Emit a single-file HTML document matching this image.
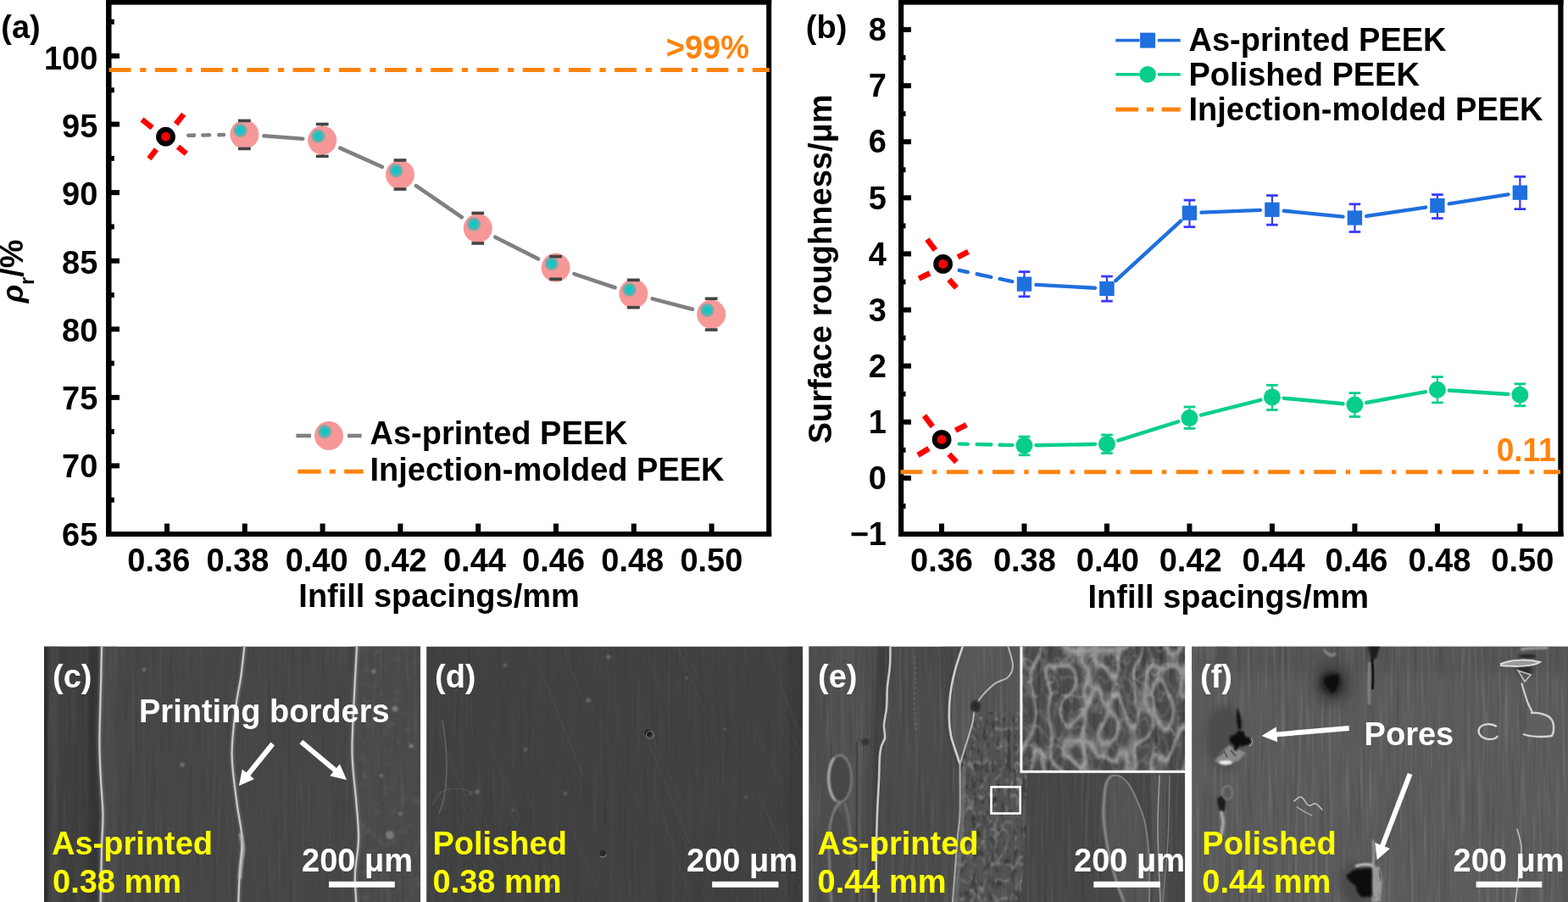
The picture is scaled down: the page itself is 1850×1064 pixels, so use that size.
<!DOCTYPE html>
<html><head><meta charset="utf-8"><title>PEEK figure</title>
<style>
html,body{margin:0;padding:0;background:#fff;}
body{width:1850px;height:1064px;overflow:hidden;}
svg{display:block;font-family:'Liberation Sans', Arial, sans-serif;font-weight:bold;}
</style></head><body>
<svg width="1850" height="1064" viewBox="0 0 1850 1064">
<rect width="1850" height="1064" fill="#fff"/>
<g id="pa">
<rect x="125.05" y="-0.40" width="6.50" height="633.40" fill="#000"/>
<rect x="904.20" y="-0.40" width="6.00" height="633.40" fill="#000"/>
<rect x="125.05" y="-0.40" width="785.15" height="6.00" fill="#000"/>
<rect x="125.05" y="627.00" width="785.15" height="6.00" fill="#000"/>
<line x1="128.6" y1="82.5" x2="907.7" y2="82.5" stroke="#ff830c" stroke-width="5" stroke-dasharray="25.8 10.8 7.2 10.43"/>
<rect x="128.3" y="627.00" width="12.70" height="6" fill="#000"/>
<text x="115.30" y="643.60" font-size="38" text-anchor="end" fill="#000" >65</text>
<rect x="128.3" y="586.72" width="6.50" height="6" fill="#000"/>
<rect x="128.3" y="546.43" width="12.70" height="6" fill="#000"/>
<text x="115.30" y="563.33" font-size="38" text-anchor="end" fill="#000" >70</text>
<rect x="128.3" y="506.14" width="6.50" height="6" fill="#000"/>
<rect x="128.3" y="465.86" width="12.70" height="6" fill="#000"/>
<text x="115.30" y="483.06" font-size="38" text-anchor="end" fill="#000" >75</text>
<rect x="128.3" y="425.57" width="6.50" height="6" fill="#000"/>
<rect x="128.3" y="385.29" width="12.70" height="6" fill="#000"/>
<text x="115.30" y="402.79" font-size="38" text-anchor="end" fill="#000" >80</text>
<rect x="128.3" y="345.00" width="6.50" height="6" fill="#000"/>
<rect x="128.3" y="304.72" width="12.70" height="6" fill="#000"/>
<text x="115.30" y="322.52" font-size="38" text-anchor="end" fill="#000" >85</text>
<rect x="128.3" y="264.44" width="6.50" height="6" fill="#000"/>
<rect x="128.3" y="224.15" width="12.70" height="6" fill="#000"/>
<text x="115.30" y="242.25" font-size="38" text-anchor="end" fill="#000" >90</text>
<rect x="128.3" y="183.86" width="6.50" height="6" fill="#000"/>
<rect x="128.3" y="143.58" width="12.70" height="6" fill="#000"/>
<text x="115.30" y="161.98" font-size="38" text-anchor="end" fill="#000" >95</text>
<rect x="128.3" y="103.29" width="6.50" height="6" fill="#000"/>
<rect x="128.3" y="63.01" width="12.70" height="6" fill="#000"/>
<text x="115.30" y="81.71" font-size="38" text-anchor="end" fill="#000" >100</text>
<rect x="128.3" y="22.73" width="6.50" height="6" fill="#000"/>
<rect x="194.00" y="617.6" width="6" height="12.40" fill="#000"/>
<text x="187.30" y="673.50" font-size="38" text-anchor="middle" fill="#000" >0.36</text>
<rect x="285.80" y="617.6" width="6" height="12.40" fill="#000"/>
<text x="280.46" y="673.50" font-size="38" text-anchor="middle" fill="#000" >0.38</text>
<rect x="377.60" y="617.6" width="6" height="12.40" fill="#000"/>
<text x="373.62" y="673.50" font-size="38" text-anchor="middle" fill="#000" >0.40</text>
<rect x="469.40" y="617.6" width="6" height="12.40" fill="#000"/>
<text x="466.78" y="673.50" font-size="38" text-anchor="middle" fill="#000" >0.42</text>
<rect x="561.20" y="617.6" width="6" height="12.40" fill="#000"/>
<text x="559.94" y="673.50" font-size="38" text-anchor="middle" fill="#000" >0.44</text>
<rect x="653.00" y="617.6" width="6" height="12.40" fill="#000"/>
<text x="653.10" y="673.50" font-size="38" text-anchor="middle" fill="#000" >0.46</text>
<rect x="744.80" y="617.6" width="6" height="12.40" fill="#000"/>
<text x="746.26" y="673.50" font-size="38" text-anchor="middle" fill="#000" >0.48</text>
<rect x="836.60" y="617.6" width="6" height="12.40" fill="#000"/>
<text x="839.42" y="673.50" font-size="38" text-anchor="middle" fill="#000" >0.50</text>
<text x="518.10" y="716.30" font-size="38" text-anchor="middle" fill="#000" >Infill spacings/mm</text>
<text x="884.00" y="68.70" font-size="38" text-anchor="end" fill="#ff830c" >&gt;99%</text>
<text x="1.30" y="44.70" font-size="38" text-anchor="start" fill="#000" >(a)</text>
<text transform="translate(26.8,357.2) rotate(-90)" font-size="38"><tspan font-style="italic" font-size="35.5">ρ</tspan><tspan font-size="23" dy="13.5">r</tspan><tspan dy="-13.5">/%</tspan></text>
</g>
<line x1="222.30" y1="159.74" x2="229.00" y2="159.63" stroke="#808080" stroke-width="4.6" stroke-linecap="round"/><line x1="239.30" y1="159.45" x2="247.00" y2="159.32" stroke="#808080" stroke-width="4.6" stroke-linecap="round"/><line x1="258.30" y1="159.12" x2="264.00" y2="159.02" stroke="#808080" stroke-width="4.6" stroke-linecap="round"/>
<line x1="311.34" y1="160.30" x2="357.26" y2="163.70" stroke="#808080" stroke-width="4.6" stroke-linecap="round"/>
<line x1="401.23" y1="174.72" x2="450.97" y2="196.78" stroke="#808080" stroke-width="4.6" stroke-linecap="round"/>
<line x1="490.94" y1="219.14" x2="544.86" y2="256.26" stroke="#808080" stroke-width="4.6" stroke-linecap="round"/>
<line x1="584.32" y1="279.69" x2="635.08" y2="305.41" stroke="#808080" stroke-width="4.6" stroke-linecap="round"/>
<line x1="677.41" y1="323.09" x2="725.59" y2="339.21" stroke="#808080" stroke-width="4.6" stroke-linecap="round"/>
<line x1="769.64" y1="352.36" x2="816.96" y2="364.84" stroke="#808080" stroke-width="4.6" stroke-linecap="round"/>
<defs><radialGradient id="gp" cx="0.5" cy="0.5" r="0.5">
<stop offset="0" stop-color="#00cccc"/><stop offset="0.45" stop-color="#22c0c0"/><stop offset="0.85" stop-color="#7fa9a8"/><stop offset="1" stop-color="#8fa9a8"/></radialGradient></defs>
<line x1="288.40" y1="142.40" x2="288.40" y2="175.40" stroke="#444" stroke-width="2.2"/>
<circle cx="288.40" cy="158.60" r="17" fill="#f89797"/><circle cx="283.60" cy="153.80" r="8.2" fill="url(#gp)"/>
<rect x="281.00" y="140.60" width="14.8" height="3.6" fill="#444"/>
<rect x="281.00" y="173.60" width="14.8" height="3.6" fill="#444"/>
<line x1="380.20" y1="146.50" x2="380.20" y2="184.30" stroke="#444" stroke-width="2.2"/>
<circle cx="380.20" cy="165.40" r="17" fill="#f89797"/><circle cx="375.40" cy="160.60" r="8.2" fill="url(#gp)"/>
<rect x="372.80" y="144.70" width="14.8" height="3.6" fill="#444"/>
<rect x="372.80" y="182.50" width="14.8" height="3.6" fill="#444"/>
<line x1="472.00" y1="189.00" x2="472.00" y2="223.10" stroke="#444" stroke-width="2.2"/>
<circle cx="472.00" cy="206.10" r="17" fill="#f89797"/><circle cx="467.20" cy="201.30" r="8.2" fill="url(#gp)"/>
<rect x="464.60" y="187.20" width="14.8" height="3.6" fill="#444"/>
<rect x="464.60" y="221.30" width="14.8" height="3.6" fill="#444"/>
<line x1="563.80" y1="251.40" x2="563.80" y2="287.00" stroke="#444" stroke-width="2.2"/>
<circle cx="563.80" cy="269.30" r="17" fill="#f89797"/><circle cx="559.00" cy="264.50" r="8.2" fill="url(#gp)"/>
<rect x="556.40" y="249.60" width="14.8" height="3.6" fill="#444"/>
<rect x="556.40" y="285.20" width="14.8" height="3.6" fill="#444"/>
<line x1="655.60" y1="302.60" x2="655.60" y2="329.20" stroke="#444" stroke-width="2.2"/>
<circle cx="655.60" cy="315.80" r="17" fill="#f89797"/><circle cx="650.80" cy="311.00" r="8.2" fill="url(#gp)"/>
<rect x="648.20" y="300.80" width="14.8" height="3.6" fill="#444"/>
<rect x="648.20" y="327.40" width="14.8" height="3.6" fill="#444"/>
<line x1="747.40" y1="330.30" x2="747.40" y2="362.70" stroke="#444" stroke-width="2.2"/>
<circle cx="747.40" cy="346.50" r="17" fill="#f89797"/><circle cx="742.60" cy="341.70" r="8.2" fill="url(#gp)"/>
<rect x="740.00" y="328.50" width="14.8" height="3.6" fill="#444"/>
<rect x="740.00" y="360.90" width="14.8" height="3.6" fill="#444"/>
<line x1="839.20" y1="352.30" x2="839.20" y2="389.00" stroke="#444" stroke-width="2.2"/>
<circle cx="839.20" cy="370.70" r="17" fill="#f89797"/><circle cx="834.40" cy="365.90" r="8.2" fill="url(#gp)"/>
<rect x="831.80" y="350.50" width="14.8" height="3.6" fill="#444"/>
<rect x="831.80" y="387.20" width="14.8" height="3.6" fill="#444"/>
<line x1="167.50" y1="141.00" x2="179.60" y2="150.60" stroke="#ff0000" stroke-width="6.6"/><line x1="207.50" y1="146.40" x2="216.70" y2="134.80" stroke="#ff0000" stroke-width="6.6"/><line x1="175.90" y1="187.20" x2="184.40" y2="176.20" stroke="#ff0000" stroke-width="6.6"/><line x1="209.90" y1="173.10" x2="219.80" y2="181.20" stroke="#ff0000" stroke-width="6.6"/><circle cx="195.50" cy="161.20" r="8.4" fill="#ff0000" stroke="#000" stroke-width="6"/>
<line x1="349.4" y1="514" x2="367" y2="514" stroke="#808080" stroke-width="4.6"/>
<line x1="410" y1="514" x2="426.6" y2="514" stroke="#808080" stroke-width="4.6"/>
<circle cx="388.00" cy="514.00" r="17" fill="#f89797"/><circle cx="383.20" cy="509.20" r="8.2" fill="url(#gp)"/>
<text x="436.50" y="523.90" font-size="38" text-anchor="start" fill="#000" >As-printed PEEK</text>
<line x1="351.3" y1="556.2" x2="378.6" y2="556.2" stroke="#ff830c" stroke-width="5"/>
<line x1="388.9" y1="556.2" x2="395.8" y2="556.2" stroke="#ff830c" stroke-width="5"/>
<line x1="406.2" y1="556.2" x2="428.7" y2="556.2" stroke="#ff830c" stroke-width="5"/>
<text x="436.50" y="567.10" font-size="38" text-anchor="start" fill="#000" >Injection-molded PEEK</text>
<g id="pb">
<rect x="1060.00" y="-0.40" width="6.20" height="633.40" fill="#000"/>
<rect x="1838.30" y="-0.40" width="6.20" height="633.40" fill="#000"/>
<rect x="1060.00" y="-0.40" width="784.50" height="6.00" fill="#000"/>
<rect x="1060.00" y="627.00" width="784.50" height="6.00" fill="#000"/>
<line x1="1062.5" y1="556.8" x2="1841" y2="556.8" stroke="#ff830c" stroke-width="5" stroke-dasharray="25.8 11.6 5.4 11.4"/>
<rect x="1063.1" y="627.00" width="11.90" height="6" fill="#000"/>
<text x="1046.00" y="643.20" font-size="38" text-anchor="end" fill="#000" >−1</text>
<rect x="1063.1" y="593.95" width="5.40" height="6" fill="#000"/>
<rect x="1063.1" y="560.89" width="11.90" height="6" fill="#000"/>
<text x="1046.00" y="577.09" font-size="38" text-anchor="end" fill="#000" >0</text>
<rect x="1063.1" y="527.84" width="5.40" height="6" fill="#000"/>
<rect x="1063.1" y="494.78" width="11.90" height="6" fill="#000"/>
<text x="1046.00" y="510.98" font-size="38" text-anchor="end" fill="#000" >1</text>
<rect x="1063.1" y="461.73" width="5.40" height="6" fill="#000"/>
<rect x="1063.1" y="428.67" width="11.90" height="6" fill="#000"/>
<text x="1046.00" y="444.87" font-size="38" text-anchor="end" fill="#000" >2</text>
<rect x="1063.1" y="395.62" width="5.40" height="6" fill="#000"/>
<rect x="1063.1" y="362.56" width="11.90" height="6" fill="#000"/>
<text x="1046.00" y="378.76" font-size="38" text-anchor="end" fill="#000" >3</text>
<rect x="1063.1" y="329.50" width="5.40" height="6" fill="#000"/>
<rect x="1063.1" y="296.45" width="11.90" height="6" fill="#000"/>
<text x="1046.00" y="312.65" font-size="38" text-anchor="end" fill="#000" >4</text>
<rect x="1063.1" y="263.39" width="5.40" height="6" fill="#000"/>
<rect x="1063.1" y="230.34" width="11.90" height="6" fill="#000"/>
<text x="1046.00" y="246.54" font-size="38" text-anchor="end" fill="#000" >5</text>
<rect x="1063.1" y="197.29" width="5.40" height="6" fill="#000"/>
<rect x="1063.1" y="164.23" width="11.90" height="6" fill="#000"/>
<text x="1046.00" y="180.43" font-size="38" text-anchor="end" fill="#000" >6</text>
<rect x="1063.1" y="131.18" width="5.40" height="6" fill="#000"/>
<rect x="1063.1" y="98.12" width="11.90" height="6" fill="#000"/>
<text x="1046.00" y="114.32" font-size="38" text-anchor="end" fill="#000" >7</text>
<rect x="1063.1" y="65.07" width="5.40" height="6" fill="#000"/>
<rect x="1063.1" y="32.01" width="11.90" height="6" fill="#000"/>
<text x="1046.00" y="48.21" font-size="38" text-anchor="end" fill="#000" >8</text>
<rect x="1108.00" y="617.6" width="6" height="12.40" fill="#000"/>
<text x="1111.00" y="673.50" font-size="38" text-anchor="middle" fill="#000" >0.36</text>
<rect x="1205.48" y="617.6" width="6" height="12.40" fill="#000"/>
<text x="1208.90" y="673.50" font-size="38" text-anchor="middle" fill="#000" >0.38</text>
<rect x="1302.96" y="617.6" width="6" height="12.40" fill="#000"/>
<text x="1306.80" y="673.50" font-size="38" text-anchor="middle" fill="#000" >0.40</text>
<rect x="1400.44" y="617.6" width="6" height="12.40" fill="#000"/>
<text x="1404.70" y="673.50" font-size="38" text-anchor="middle" fill="#000" >0.42</text>
<rect x="1497.92" y="617.6" width="6" height="12.40" fill="#000"/>
<text x="1502.60" y="673.50" font-size="38" text-anchor="middle" fill="#000" >0.44</text>
<rect x="1595.40" y="617.6" width="6" height="12.40" fill="#000"/>
<text x="1600.50" y="673.50" font-size="38" text-anchor="middle" fill="#000" >0.46</text>
<rect x="1692.88" y="617.6" width="6" height="12.40" fill="#000"/>
<text x="1698.40" y="673.50" font-size="38" text-anchor="middle" fill="#000" >0.48</text>
<rect x="1790.36" y="617.6" width="6" height="12.40" fill="#000"/>
<text x="1796.30" y="673.50" font-size="38" text-anchor="middle" fill="#000" >0.50</text>
<text x="1449.30" y="716.80" font-size="38" text-anchor="middle" fill="#000" >Infill spacings/mm</text>
<text x="1765.70" y="543.50" font-size="38" text-anchor="start" fill="#ff830c" textLength="70" lengthAdjust="spacingAndGlyphs">0.11</text>
<text x="950.80" y="44.80" font-size="38" text-anchor="start" fill="#000" >(b)</text>
<text transform="translate(981.4,317.4) rotate(-90)" font-size="38" text-anchor="middle">Surface roughness/μm</text>
</g>
<line x1="1131.70" y1="318.84" x2="1141.80" y2="320.98" stroke="#1f6fdd" stroke-width="4.4" stroke-linecap="round"/><line x1="1152.60" y1="323.27" x2="1169.40" y2="326.83" stroke="#1f6fdd" stroke-width="4.4" stroke-linecap="round"/><line x1="1179.50" y1="328.96" x2="1194.40" y2="332.12" stroke="#1f6fdd" stroke-width="4.4" stroke-linecap="round"/>
<line x1="1222.46" y1="335.87" x2="1291.98" y2="339.73" stroke="#1f6fdd" stroke-width="4.4" stroke-linecap="round"/>
<line x1="1316.28" y1="331.04" x2="1393.12" y2="260.66" stroke="#1f6fdd" stroke-width="4.4" stroke-linecap="round"/>
<line x1="1417.43" y1="250.64" x2="1486.93" y2="247.86" stroke="#1f6fdd" stroke-width="4.4" stroke-linecap="round"/>
<line x1="1514.85" y1="248.69" x2="1584.47" y2="255.61" stroke="#1f6fdd" stroke-width="4.4" stroke-linecap="round"/>
<line x1="1612.25" y1="254.94" x2="1682.03" y2="244.56" stroke="#1f6fdd" stroke-width="4.4" stroke-linecap="round"/>
<line x1="1709.71" y1="240.33" x2="1779.53" y2="229.37" stroke="#1f6fdd" stroke-width="4.4" stroke-linecap="round"/>
<line x1="1208.48" y1="320.60" x2="1208.48" y2="349.80" stroke="#3a3aff" stroke-width="2.2"/>
<rect x="1201.68" y="319.20" width="13.6" height="2.8" fill="#3a3aff"/>
<rect x="1201.68" y="348.40" width="13.6" height="2.8" fill="#3a3aff"/>
<rect x="1199.78" y="326.50" width="17.4" height="17.2" fill="#1f6fdd"/>
<line x1="1305.96" y1="326.00" x2="1305.96" y2="355.20" stroke="#3a3aff" stroke-width="2.2"/>
<rect x="1299.16" y="324.60" width="13.6" height="2.8" fill="#3a3aff"/>
<rect x="1299.16" y="353.80" width="13.6" height="2.8" fill="#3a3aff"/>
<rect x="1297.26" y="331.90" width="17.4" height="17.2" fill="#1f6fdd"/>
<line x1="1403.44" y1="236.10" x2="1403.44" y2="267.70" stroke="#3a3aff" stroke-width="2.2"/>
<rect x="1396.64" y="234.70" width="13.6" height="2.8" fill="#3a3aff"/>
<rect x="1396.64" y="266.30" width="13.6" height="2.8" fill="#3a3aff"/>
<rect x="1394.74" y="242.60" width="17.4" height="17.2" fill="#1f6fdd"/>
<line x1="1500.92" y1="230.60" x2="1500.92" y2="265.20" stroke="#3a3aff" stroke-width="2.2"/>
<rect x="1494.12" y="229.20" width="13.6" height="2.8" fill="#3a3aff"/>
<rect x="1494.12" y="263.80" width="13.6" height="2.8" fill="#3a3aff"/>
<rect x="1492.22" y="238.70" width="17.4" height="17.2" fill="#1f6fdd"/>
<line x1="1598.40" y1="240.80" x2="1598.40" y2="273.50" stroke="#3a3aff" stroke-width="2.2"/>
<rect x="1591.60" y="239.40" width="13.6" height="2.8" fill="#3a3aff"/>
<rect x="1591.60" y="272.10" width="13.6" height="2.8" fill="#3a3aff"/>
<rect x="1589.70" y="248.40" width="17.4" height="17.2" fill="#1f6fdd"/>
<line x1="1695.88" y1="229.60" x2="1695.88" y2="257.50" stroke="#3a3aff" stroke-width="2.2"/>
<rect x="1689.08" y="228.20" width="13.6" height="2.8" fill="#3a3aff"/>
<rect x="1689.08" y="256.10" width="13.6" height="2.8" fill="#3a3aff"/>
<rect x="1687.18" y="233.90" width="17.4" height="17.2" fill="#1f6fdd"/>
<line x1="1793.36" y1="208.40" x2="1793.36" y2="246.60" stroke="#3a3aff" stroke-width="2.2"/>
<rect x="1786.56" y="207.00" width="13.6" height="2.8" fill="#3a3aff"/>
<rect x="1786.56" y="245.20" width="13.6" height="2.8" fill="#3a3aff"/>
<rect x="1784.66" y="218.60" width="17.4" height="17.2" fill="#1f6fdd"/>
<line x1="1131.70" y1="523.61" x2="1141.80" y2="523.86" stroke="#08ce8b" stroke-width="4.4" stroke-linecap="round"/><line x1="1152.60" y1="524.12" x2="1169.40" y2="524.54" stroke="#08ce8b" stroke-width="4.4" stroke-linecap="round"/><line x1="1179.50" y1="524.79" x2="1194.40" y2="525.15" stroke="#08ce8b" stroke-width="4.4" stroke-linecap="round"/>
<line x1="1222.48" y1="525.26" x2="1291.96" y2="524.04" stroke="#08ce8b" stroke-width="4.4" stroke-linecap="round"/>
<line x1="1319.31" y1="519.59" x2="1390.09" y2="497.31" stroke="#08ce8b" stroke-width="4.4" stroke-linecap="round"/>
<line x1="1417.01" y1="489.66" x2="1487.35" y2="471.84" stroke="#08ce8b" stroke-width="4.4" stroke-linecap="round"/>
<line x1="1514.86" y1="469.70" x2="1584.46" y2="476.20" stroke="#08ce8b" stroke-width="4.4" stroke-linecap="round"/>
<line x1="1612.17" y1="474.99" x2="1682.11" y2="462.21" stroke="#08ce8b" stroke-width="4.4" stroke-linecap="round"/>
<line x1="1709.85" y1="460.57" x2="1779.39" y2="464.93" stroke="#08ce8b" stroke-width="4.4" stroke-linecap="round"/>
<line x1="1208.48" y1="515.10" x2="1208.48" y2="536.80" stroke="#08ce8b" stroke-width="2.2"/>
<rect x="1201.68" y="513.70" width="13.6" height="2.8" fill="#08ce8b"/>
<rect x="1201.68" y="535.40" width="13.6" height="2.8" fill="#08ce8b"/>
<circle cx="1208.48" cy="525.50" r="10" fill="#08ce8b"/>
<line x1="1305.96" y1="513.00" x2="1305.96" y2="534.60" stroke="#08ce8b" stroke-width="2.2"/>
<rect x="1299.16" y="511.60" width="13.6" height="2.8" fill="#08ce8b"/>
<rect x="1299.16" y="533.20" width="13.6" height="2.8" fill="#08ce8b"/>
<circle cx="1305.96" cy="523.80" r="10" fill="#08ce8b"/>
<line x1="1403.44" y1="480.00" x2="1403.44" y2="505.40" stroke="#08ce8b" stroke-width="2.2"/>
<rect x="1396.64" y="478.60" width="13.6" height="2.8" fill="#08ce8b"/>
<rect x="1396.64" y="504.00" width="13.6" height="2.8" fill="#08ce8b"/>
<circle cx="1403.44" cy="493.10" r="10" fill="#08ce8b"/>
<line x1="1500.92" y1="454.30" x2="1500.92" y2="483.50" stroke="#08ce8b" stroke-width="2.2"/>
<rect x="1494.12" y="452.90" width="13.6" height="2.8" fill="#08ce8b"/>
<rect x="1494.12" y="482.10" width="13.6" height="2.8" fill="#08ce8b"/>
<circle cx="1500.92" cy="468.40" r="10" fill="#08ce8b"/>
<line x1="1598.40" y1="463.60" x2="1598.40" y2="491.50" stroke="#08ce8b" stroke-width="2.2"/>
<rect x="1591.60" y="462.20" width="13.6" height="2.8" fill="#08ce8b"/>
<rect x="1591.60" y="490.10" width="13.6" height="2.8" fill="#08ce8b"/>
<circle cx="1598.40" cy="477.50" r="10" fill="#08ce8b"/>
<line x1="1695.88" y1="444.60" x2="1695.88" y2="474.90" stroke="#08ce8b" stroke-width="2.2"/>
<rect x="1689.08" y="443.20" width="13.6" height="2.8" fill="#08ce8b"/>
<rect x="1689.08" y="473.50" width="13.6" height="2.8" fill="#08ce8b"/>
<circle cx="1695.88" cy="459.70" r="10" fill="#08ce8b"/>
<line x1="1793.36" y1="452.80" x2="1793.36" y2="478.80" stroke="#08ce8b" stroke-width="2.2"/>
<rect x="1786.56" y="451.40" width="13.6" height="2.8" fill="#08ce8b"/>
<rect x="1786.56" y="477.40" width="13.6" height="2.8" fill="#08ce8b"/>
<circle cx="1793.36" cy="465.80" r="10" fill="#08ce8b"/>
<line x1="1093.80" y1="282.20" x2="1103.50" y2="295.10" stroke="#ff0000" stroke-width="6.6"/><line x1="1130.10" y1="303.40" x2="1142.40" y2="296.90" stroke="#ff0000" stroke-width="6.6"/><line x1="1084.10" y1="328.60" x2="1097.00" y2="322.20" stroke="#ff0000" stroke-width="6.6"/><line x1="1119.70" y1="329.70" x2="1128.40" y2="339.50" stroke="#ff0000" stroke-width="6.6"/><circle cx="1112.60" cy="311.40" r="8.4" fill="#ff0000" stroke="#000" stroke-width="6"/>
<line x1="1090.50" y1="490.30" x2="1100.30" y2="503.20" stroke="#ff0000" stroke-width="6.6"/><line x1="1127.30" y1="507.60" x2="1140.30" y2="501.10" stroke="#ff0000" stroke-width="6.6"/><line x1="1083.00" y1="536.80" x2="1095.90" y2="529.20" stroke="#ff0000" stroke-width="6.6"/><line x1="1119.70" y1="535.70" x2="1128.40" y2="545.00" stroke="#ff0000" stroke-width="6.6"/><circle cx="1111.10" cy="518.40" r="8.4" fill="#ff0000" stroke="#000" stroke-width="6"/>
<line x1="1316.3" y1="47.6" x2="1344.6" y2="47.6" stroke="#1f6fdd" stroke-width="3.6"/>
<line x1="1366" y1="47.6" x2="1392.7" y2="47.6" stroke="#1f6fdd" stroke-width="3.6"/>
<rect x="1345.1" y="38.6" width="18" height="18" fill="#1f6fdd"/>
<line x1="1316.3" y1="87.8" x2="1344.6" y2="87.8" stroke="#08ce8b" stroke-width="3.6"/>
<line x1="1366" y1="87.8" x2="1392.7" y2="87.8" stroke="#08ce8b" stroke-width="3.6"/>
<circle cx="1354.1" cy="87.8" r="9.8" fill="#08ce8b"/>
<text x="1402.50" y="60.10" font-size="38" text-anchor="start" fill="#000" >As-printed PEEK</text>
<text x="1402.50" y="100.90" font-size="38" text-anchor="start" fill="#000" >Polished PEEK</text>
<line x1="1316.3" y1="129.1" x2="1343.1" y2="129.1" stroke="#ff830c" stroke-width="5"/>
<line x1="1352.9" y1="129.1" x2="1361" y2="129.1" stroke="#ff830c" stroke-width="5"/>
<line x1="1370.7" y1="129.1" x2="1392.7" y2="129.1" stroke="#ff830c" stroke-width="5"/>
<text x="1402.50" y="141.90" font-size="38" text-anchor="start" fill="#000" >Injection-molded PEEK</text>
<defs>
<clipPath id="cpc"><rect x="52.1" y="762.5" width="444.1" height="301.5"/></clipPath>
<clipPath id="cpd"><rect x="503.1" y="762.5" width="444.0" height="301.5"/></clipPath>
<clipPath id="cpe"><rect x="954.4" y="762.5" width="443.7" height="301.5"/></clipPath>
<clipPath id="cpf"><rect x="1406.1" y="762.5" width="443.9" height="301.5"/></clipPath>
<filter id="nzv" x="0" y="0" width="100%" height="100%" color-interpolation-filters="sRGB">
<feTurbulence type="fractalNoise" baseFrequency="0.25 0.01" numOctaves="2" seed="7"/>
<feColorMatrix type="matrix" values="0 0 0 0 1  0 0 0 0 1  0 0 0 0 1  2.2 0 0 0 -1.1"/>
<feGaussianBlur stdDeviation="0.5"/>
</filter>
<filter id="nzd" x="0" y="0" width="100%" height="100%" color-interpolation-filters="sRGB">
<feTurbulence type="fractalNoise" baseFrequency="0.25 0.01" numOctaves="2" seed="11"/>
<feColorMatrix type="matrix" values="0 0 0 0 0  0 0 0 0 0  0 0 0 0 0  2.2 0 0 0 -1.1"/>
<feGaussianBlur stdDeviation="0.5"/>
</filter>
<filter id="nzs" x="0" y="0" width="100%" height="100%" color-interpolation-filters="sRGB">
<feTurbulence type="fractalNoise" baseFrequency="0.08" numOctaves="3" seed="5"/>
<feColorMatrix type="matrix" values="0 0 0 0 1  0 0 0 0 1  0 0 0 0 1  3 0 0 0 -1.6"/>
</filter>
<filter id="nzi" x="0" y="0" width="100%" height="100%" color-interpolation-filters="sRGB">
<feTurbulence type="turbulence" baseFrequency="0.09 0.035" numOctaves="2" seed="4"/>
<feColorMatrix type="matrix" values="0 0 0 0 1  0 0 0 0 1  0 0 0 0 1  3.2 0 0 0 -0.55"/>
</filter>
<filter id="ridge" x="0" y="0" width="100%" height="100%" color-interpolation-filters="sRGB">
<feTurbulence type="turbulence" baseFrequency="0.05 0.028" numOctaves="1" seed="9"/>
<feColorMatrix type="matrix" values="0 0 0 0 1  0 0 0 0 1  0 0 0 0 1  -6 0 0 0 0.9"/>
<feGaussianBlur stdDeviation="1.1"/>
</filter>
<filter id="ridge2" x="0" y="0" width="100%" height="100%" color-interpolation-filters="sRGB">
<feTurbulence type="turbulence" baseFrequency="0.09 0.05" numOctaves="1" seed="21"/>
<feColorMatrix type="matrix" values="0 0 0 0 1  0 0 0 0 1  0 0 0 0 1  -7 0 0 0 0.8"/>
<feGaussianBlur stdDeviation="0.8"/>
</filter>
<filter id="nzf" x="0" y="0" width="100%" height="100%" color-interpolation-filters="sRGB">
<feTurbulence type="turbulence" baseFrequency="0.08 0.05" numOctaves="2" seed="13"/>
<feColorMatrix type="matrix" values="0 0 0 0 1  0 0 0 0 1  0 0 0 0 1  -6 0 0 0 0.9"/>
<feGaussianBlur stdDeviation="0.8"/>
<feComposite operator="in" in2="SourceAlpha"/>
</filter>
<filter id="nzd2" x="0" y="0" width="100%" height="100%" color-interpolation-filters="sRGB">
<feTurbulence type="fractalNoise" baseFrequency="0.15 0.08" numOctaves="2" seed="17"/>
<feColorMatrix type="matrix" values="0 0 0 0 0  0 0 0 0 0  0 0 0 0 0  3 0 0 0 -1.5"/>
<feComposite operator="in" in2="SourceAlpha"/>
</filter>
<filter id="bl1" filterUnits="userSpaceOnUse" x="0" y="700" width="1850" height="364"><feGaussianBlur stdDeviation="1.2"/></filter>
<filter id="bl2" filterUnits="userSpaceOnUse" x="0" y="700" width="1850" height="364"><feGaussianBlur stdDeviation="2.5"/></filter>
<filter id="bl4" filterUnits="userSpaceOnUse" x="0" y="700" width="1850" height="364"><feGaussianBlur stdDeviation="5"/></filter>
<filter id="bl8" filterUnits="userSpaceOnUse" x="0" y="700" width="1850" height="364"><feGaussianBlur stdDeviation="8"/></filter>

</defs>
<g clip-path="url(#cpc)">
<rect x="52.1" y="762.5" width="444.1" height="301.5" fill="#464646"/>
<rect x="52.1" y="762.5" width="67.3" height="301.5" fill="#3f3f3f"/>
<rect x="50" y="762.5" width="6" height="301.5" fill="#2c2c2c" filter="url(#bl1)"/>
<rect x="104" y="762.5" width="12" height="301.5" fill="#363636" filter="url(#bl2)"/>
<rect x="60" y="762.5" width="8" height="301.5" fill="#4a4a4a" filter="url(#bl2)"/>
<rect x="122" y="762.5" width="16" height="301.5" fill="#4c4c4c" filter="url(#bl2)"/>
<path d="M421,762 L496,762 L496,1064 L420,1064 Z" fill="#4a4a4a"/>
<rect x="52.1" y="762.5" width="444.1" height="301.5" filter="url(#nzv)" opacity="0.06"/><rect x="52.1" y="762.5" width="444.1" height="301.5" filter="url(#nzd)" opacity="0.08"/>
<path d="M117.8,762.0 C117.7,768.3 117.4,781.2 117.0,800.0 C116.6,818.8 115.2,855.0 115.2,875.0 C115.2,895.0 116.1,905.8 116.8,920.0 C117.5,934.2 119.0,946.7 119.2,960.0 C119.4,973.3 118.2,982.7 117.8,1000.0 C117.3,1017.3 116.7,1053.3 116.5,1064.0" fill="none" stroke="#2e2e2e" stroke-width="2.5" stroke-opacity="0.6" stroke-linecap="round" stroke-linejoin="round" filter="url(#bl1)"/>
<path d="M120.0,762.0 C119.9,768.3 119.6,781.2 119.2,800.0 C118.8,818.8 117.4,855.0 117.4,875.0 C117.4,895.0 118.3,905.8 119.0,920.0 C119.7,934.2 121.2,946.7 121.4,960.0 C121.6,973.3 120.5,982.7 120.0,1000.0 C119.5,1017.3 118.9,1053.3 118.7,1064.0" fill="none" stroke="#8a8a8a" stroke-width="6" stroke-opacity="0.45" stroke-linecap="round" stroke-linejoin="round" filter="url(#bl1)"/>
<path d="M120.0,762.0 C119.9,768.3 119.6,781.2 119.2,800.0 C118.8,818.8 117.4,855.0 117.4,875.0 C117.4,895.0 118.3,905.8 119.0,920.0 C119.7,934.2 121.2,946.7 121.4,960.0 C121.6,973.3 120.5,982.7 120.0,1000.0 C119.5,1017.3 118.9,1053.3 118.7,1064.0" fill="none" stroke="#c8c8c8" stroke-width="2.3" stroke-opacity="1.0" stroke-linecap="round" stroke-linejoin="round" />
<path d="M286.2,762.0 C285.5,768.3 283.5,788.2 281.8,800.0 C280.1,811.8 277.9,818.0 276.2,833.0 C274.5,848.0 271.2,870.8 271.4,889.7 C271.6,908.6 275.1,929.9 277.1,946.4 C279.1,962.9 282.7,974.8 283.3,989.0 C283.9,1003.2 281.2,1019.0 280.5,1031.5 C279.8,1044.0 279.3,1058.6 279.1,1064.0" fill="none" stroke="#2e2e2e" stroke-width="2.5" stroke-opacity="0.6" stroke-linecap="round" stroke-linejoin="round" filter="url(#bl1)"/>
<path d="M288.4,762.0 C287.7,768.3 285.7,788.2 284.0,800.0 C282.3,811.8 280.1,818.0 278.4,833.0 C276.7,848.0 273.5,870.8 273.6,889.7 C273.8,908.6 277.3,929.9 279.3,946.4 C281.3,962.9 284.9,974.8 285.5,989.0 C286.1,1003.2 283.4,1019.0 282.7,1031.5 C282.0,1044.0 281.5,1058.6 281.3,1064.0" fill="none" stroke="#8a8a8a" stroke-width="6" stroke-opacity="0.45" stroke-linecap="round" stroke-linejoin="round" filter="url(#bl1)"/>
<path d="M288.4,762.0 C287.7,768.3 285.7,788.2 284.0,800.0 C282.3,811.8 280.1,818.0 278.4,833.0 C276.7,848.0 273.5,870.8 273.6,889.7 C273.8,908.6 277.3,929.9 279.3,946.4 C281.3,962.9 284.9,974.8 285.5,989.0 C286.1,1003.2 283.4,1019.0 282.7,1031.5 C282.0,1044.0 281.5,1058.6 281.3,1064.0" fill="none" stroke="#c8c8c8" stroke-width="2.3" stroke-opacity="1.0" stroke-linecap="round" stroke-linejoin="round" />
<path d="M418.9,762.0 C418.6,768.3 417.4,788.2 416.8,800.0 C416.2,811.8 415.8,818.0 415.2,833.0 C414.6,848.0 412.8,870.9 413.3,889.7 C413.8,908.5 416.8,929.5 418.1,946.0 C419.4,962.5 421.1,974.8 420.9,989.0 C420.7,1003.2 417.2,1018.5 416.7,1031.0 C416.2,1043.5 417.9,1058.5 418.1,1064.0" fill="none" stroke="#2e2e2e" stroke-width="2.5" stroke-opacity="0.6" stroke-linecap="round" stroke-linejoin="round" filter="url(#bl1)"/>
<path d="M421.1,762.0 C420.8,768.3 419.6,788.2 419.0,800.0 C418.4,811.8 418.0,818.0 417.4,833.0 C416.8,848.0 415.0,870.9 415.5,889.7 C416.0,908.5 419.0,929.5 420.3,946.0 C421.6,962.5 423.3,974.8 423.1,989.0 C422.9,1003.2 419.4,1018.5 418.9,1031.0 C418.4,1043.5 420.1,1058.5 420.3,1064.0" fill="none" stroke="#8a8a8a" stroke-width="6" stroke-opacity="0.45" stroke-linecap="round" stroke-linejoin="round" filter="url(#bl1)"/>
<path d="M421.1,762.0 C420.8,768.3 419.6,788.2 419.0,800.0 C418.4,811.8 418.0,818.0 417.4,833.0 C416.8,848.0 415.0,870.9 415.5,889.7 C416.0,908.5 419.0,929.5 420.3,946.0 C421.6,962.5 423.3,974.8 423.1,989.0 C422.9,1003.2 419.4,1018.5 418.9,1031.0 C418.4,1043.5 420.1,1058.5 420.3,1064.0" fill="none" stroke="#c8c8c8" stroke-width="2.3" stroke-opacity="1.0" stroke-linecap="round" stroke-linejoin="round" />
<path d="M284.0,985.0 C284.5,987.5 286.8,995.0 287.0,1000.0 C287.2,1005.0 285.7,1009.2 285.0,1015.0 C284.3,1020.8 283.3,1031.7 283.0,1035.0" fill="none" stroke="#bdbdbd" stroke-width="4" stroke-opacity="0.8" stroke-linecap="round" stroke-linejoin="round" filter="url(#bl1)"/>
<circle cx="460" cy="985" r="5" fill="#7a7a7a" filter="url(#bl1)"/>
<circle cx="466" cy="836" r="3.5" fill="#7a7a7a" filter="url(#bl1)"/>
<circle cx="441" cy="792" r="2.5" fill="#7a7a7a" filter="url(#bl1)"/>
<circle cx="170" cy="790" r="2" fill="#7a7a7a" filter="url(#bl1)"/>
<circle cx="215" cy="902" r="2.5" fill="#7a7a7a" filter="url(#bl1)"/>
<circle cx="485" cy="880" r="2.5" fill="#7a7a7a" filter="url(#bl1)"/>
<circle cx="472" cy="960" r="2" fill="#7a7a7a" filter="url(#bl1)"/>
<circle cx="450" cy="915" r="2" fill="#7a7a7a" filter="url(#bl1)"/>
<circle cx="478" cy="1010" r="2" fill="#7a7a7a" filter="url(#bl1)"/>
<rect x="424" y="762.5" width="72" height="301.5" fill="#fff" filter="url(#nzs)" opacity="0.06"/>
</g>
<polygon points="319.4,875.6 290.6,911.2 285.8,907.4 281.8,926.9 300.0,918.9 295.3,915.0 324.0,879.4" fill="#fff"/>
<polygon points="353.4,877.3 393.1,910.6 389.2,915.2 409.1,920.0 400.9,901.3 397.0,906.0 357.3,872.7" fill="#fff"/>
<g clip-path="url(#cpd)">
<rect x="503.1" y="762.5" width="444" height="301.5" fill="#414141"/>
<rect x="930" y="762.5" width="20" height="301.5" fill="#3a3a3a" filter="url(#bl2)"/>
<rect x="503.1" y="762.5" width="444.0" height="301.5" filter="url(#nzv)" opacity="0.04"/><rect x="503.1" y="762.5" width="444.0" height="301.5" filter="url(#nzd)" opacity="0.07"/>
<line x1="575.7" y1="872.7" x2="612.8" y2="964.7" stroke="#9a9a9a" stroke-width="1" stroke-opacity="0.11"/>
<line x1="474.1" y1="675.5" x2="548.8" y2="832.7" stroke="#9a9a9a" stroke-width="1" stroke-opacity="0.07"/>
<line x1="923.6" y1="815.9" x2="992.2" y2="975.6" stroke="#9a9a9a" stroke-width="1" stroke-opacity="0.11"/>
<line x1="517.7" y1="864.3" x2="586.9" y2="1029.3" stroke="#9a9a9a" stroke-width="1" stroke-opacity="0.12"/>
<line x1="771.9" y1="695.1" x2="832.6" y2="844.6" stroke="#9a9a9a" stroke-width="1" stroke-opacity="0.08"/>
<line x1="474.3" y1="964.3" x2="515.4" y2="1072.4" stroke="#9a9a9a" stroke-width="1" stroke-opacity="0.13"/>
<line x1="805.1" y1="987.1" x2="840.4" y2="1084.0" stroke="#9a9a9a" stroke-width="1" stroke-opacity="0.09"/>
<line x1="916.6" y1="997.6" x2="941.5" y2="1047.3" stroke="#9a9a9a" stroke-width="1" stroke-opacity="0.07"/>
<line x1="913.8" y1="821.6" x2="973.1" y2="948.8" stroke="#9a9a9a" stroke-width="1" stroke-opacity="0.10"/>
<line x1="640.0" y1="796.9" x2="690.4" y2="920.7" stroke="#9a9a9a" stroke-width="1" stroke-opacity="0.13"/>
<line x1="779.9" y1="953.8" x2="834.8" y2="1122.1" stroke="#9a9a9a" stroke-width="1" stroke-opacity="0.11"/>
<line x1="526.7" y1="924.9" x2="589.8" y2="1108.7" stroke="#9a9a9a" stroke-width="1" stroke-opacity="0.10"/>
<line x1="789.8" y1="735.4" x2="855.4" y2="895.5" stroke="#9a9a9a" stroke-width="1" stroke-opacity="0.08"/>
<line x1="465.3" y1="926.4" x2="555.7" y2="1103.0" stroke="#9a9a9a" stroke-width="1" stroke-opacity="0.12"/>
<line x1="661.9" y1="755.9" x2="692.1" y2="837.5" stroke="#9a9a9a" stroke-width="1" stroke-opacity="0.13"/>
<line x1="492.8" y1="918.4" x2="509.6" y2="962.6" stroke="#9a9a9a" stroke-width="1" stroke-opacity="0.08"/>
<line x1="884.1" y1="996.5" x2="921.5" y2="1111.5" stroke="#9a9a9a" stroke-width="1" stroke-opacity="0.08"/>
<line x1="507.1" y1="915.7" x2="526.8" y2="956.2" stroke="#9a9a9a" stroke-width="1" stroke-opacity="0.09"/>
<line x1="765.3" y1="776.3" x2="780.8" y2="820.5" stroke="#9a9a9a" stroke-width="1" stroke-opacity="0.08"/>
<line x1="920.2" y1="981.9" x2="960.1" y2="1074.1" stroke="#9a9a9a" stroke-width="1" stroke-opacity="0.10"/>
<line x1="765.0" y1="874.5" x2="813.1" y2="994.8" stroke="#9a9a9a" stroke-width="1" stroke-opacity="0.13"/>
<line x1="689.8" y1="813.7" x2="756.9" y2="953.7" stroke="#9a9a9a" stroke-width="1" stroke-opacity="0.08"/>
<line x1="919.5" y1="855.1" x2="979.2" y2="968.0" stroke="#9a9a9a" stroke-width="1" stroke-opacity="0.09"/>
<line x1="732.8" y1="691.9" x2="784.0" y2="820.6" stroke="#9a9a9a" stroke-width="1" stroke-opacity="0.06"/>
<line x1="750.3" y1="826.9" x2="811.9" y2="962.2" stroke="#9a9a9a" stroke-width="1" stroke-opacity="0.11"/>
<line x1="825.3" y1="733.7" x2="843.3" y2="780.0" stroke="#9a9a9a" stroke-width="1" stroke-opacity="0.14"/>
<line x1="572.3" y1="830.3" x2="628.8" y2="952.7" stroke="#9a9a9a" stroke-width="1" stroke-opacity="0.08"/>
<line x1="601.5" y1="803.1" x2="658.7" y2="925.8" stroke="#9a9a9a" stroke-width="1" stroke-opacity="0.08"/>
<line x1="827.6" y1="697.0" x2="873.8" y2="819.7" stroke="#9a9a9a" stroke-width="1" stroke-opacity="0.08"/>
<line x1="569.6" y1="964.1" x2="604.0" y2="1034.3" stroke="#9a9a9a" stroke-width="1" stroke-opacity="0.09"/>
<line x1="796.0" y1="740.0" x2="834.2" y2="823.2" stroke="#9a9a9a" stroke-width="1" stroke-opacity="0.13"/>
<line x1="676.5" y1="984.7" x2="704.4" y2="1045.7" stroke="#9a9a9a" stroke-width="1" stroke-opacity="0.11"/>
<line x1="887.6" y1="855.9" x2="921.9" y2="923.8" stroke="#9a9a9a" stroke-width="1" stroke-opacity="0.10"/>
<line x1="533.2" y1="921.9" x2="610.0" y2="1078.3" stroke="#9a9a9a" stroke-width="1" stroke-opacity="0.08"/>
<line x1="832.4" y1="872.1" x2="902.6" y2="1025.9" stroke="#9a9a9a" stroke-width="1" stroke-opacity="0.06"/>
<line x1="602.8" y1="958.2" x2="637.4" y2="1034.0" stroke="#9a9a9a" stroke-width="1" stroke-opacity="0.09"/>
<line x1="639.8" y1="793.1" x2="723.2" y2="960.8" stroke="#9a9a9a" stroke-width="1" stroke-opacity="0.05"/>
<line x1="893.1" y1="932.2" x2="972.5" y2="1113.4" stroke="#9a9a9a" stroke-width="1" stroke-opacity="0.14"/>
<line x1="898.4" y1="743.8" x2="951.9" y2="893.9" stroke="#9a9a9a" stroke-width="1" stroke-opacity="0.11"/>
<line x1="708.6" y1="797.0" x2="749.7" y2="882.2" stroke="#9a9a9a" stroke-width="1" stroke-opacity="0.06"/>
<path d="M522.0,850.0 C522.7,855.0 525.2,870.0 526.0,880.0 C526.8,890.0 527.3,900.0 527.0,910.0 C526.7,920.0 525.5,931.7 524.0,940.0 C522.5,948.3 519.0,956.7 518.0,960.0" fill="none" stroke="#8a8a8a" stroke-width="1.5" stroke-opacity="0.45" stroke-linecap="round" stroke-linejoin="round" />
<path d="M510.0,950.0 C511.7,947.5 515.0,938.3 520.0,935.0 C525.0,931.7 533.3,930.0 540.0,930.0 C546.7,930.0 556.7,934.2 560.0,935.0" fill="none" stroke="#8a8a8a" stroke-width="1.2" stroke-opacity="0.3" stroke-linecap="round" stroke-linejoin="round" />
<circle cx="563" cy="934" r="2.5" fill="#8a8a8a" opacity="0.6" filter="url(#bl1)"/>
<circle cx="555" cy="936" r="1.5" fill="#8a8a8a" opacity="0.6" filter="url(#bl1)"/>
<circle cx="620" cy="884" r="2" fill="#8a8a8a" opacity="0.6" filter="url(#bl1)"/>
<circle cx="667" cy="936" r="2" fill="#8a8a8a" opacity="0.6" filter="url(#bl1)"/>
<circle cx="694" cy="826" r="2.5" fill="#8a8a8a" opacity="0.6" filter="url(#bl1)"/>
<circle cx="596" cy="785" r="2" fill="#8a8a8a" opacity="0.6" filter="url(#bl1)"/>
<circle cx="718" cy="775" r="2.5" fill="#8a8a8a" opacity="0.6" filter="url(#bl1)"/>
<circle cx="810" cy="800" r="1.5" fill="#8a8a8a" opacity="0.6" filter="url(#bl1)"/>
<circle cx="855" cy="860" r="1.5" fill="#8a8a8a" opacity="0.6" filter="url(#bl1)"/>
<circle cx="880" cy="940" r="1.5" fill="#8a8a8a" opacity="0.6" filter="url(#bl1)"/>
<circle cx="650" cy="1045" r="2.5" fill="#8a8a8a" opacity="0.6" filter="url(#bl1)"/>
<circle cx="540" cy="800" r="1.5" fill="#8a8a8a" opacity="0.6" filter="url(#bl1)"/>
<circle cx="605" cy="955" r="1.5" fill="#8a8a8a" opacity="0.6" filter="url(#bl1)"/>
<circle cx="764.7" cy="864.8" r="4" fill="#1e1e1e"/><circle cx="767" cy="867" r="4.5" fill="none" stroke="#777" stroke-width="1.2"/>
<circle cx="711.4" cy="1006.4" r="3.5" fill="#2a2a2a"/><path d="M708,1010 q4,3 8,-2" stroke="#777" stroke-width="1.3" fill="none"/>
</g>
<g clip-path="url(#cpe)">
<rect x="954.4" y="762.5" width="443.7" height="301.5" fill="#4b4b4b"/>
<path d="M954,762 L1050,762 L1044.8,852.8 L1038.3,891.7 L1034,960 L1033.5,1064 L954,1064 Z" fill="#4d4d4d"/>
<rect x="985" y="762" width="30" height="302" fill="#535353" filter="url(#bl4)"/>
<path d="M1036,762 L1050,762 L1044.8,852.8 L1038.3,891.7 L1034,960 L1033.5,1064 L1026,1064 L1030,900 Z" fill="#3e3e3e" filter="url(#bl2)"/>
<path d="M1135.4,762 C1125,790 1119,818 1119.8,847 C1121,870 1127,890 1132.6,901 L1146.7,855.6 L1152.4,830 L1172.3,807.4 L1189.3,798.9 L1195,784.7 L1189.3,762 Z" fill="#585858"/>
<path d="M1112,762 L1135,762 C1125,790 1119,818 1119.8,847 C1121,870 1127,890 1132.6,901 L1128,905 C1118,880 1112,850 1112,820 Z" fill="#444" filter="url(#bl2)"/>
<path d="M1189.3,762 L1195,784.7 L1189.3,798.9 L1172.3,807.4 L1152.4,830 L1146.7,855.6 L1140,880 L1205,880 L1205,762 Z" fill="#555"/>
<path d="M1132.6,901 L1146.7,855.6 L1160,840 L1205,840 L1212,912 L1210,1000 L1204,1064 L1124,1064 L1129.7,989 L1132.6,960.6 Z" fill="#525252"/>
<path d="M1132.6,901 L1146.7,855.6 L1160,840 L1205,840 L1212,912 L1210,1000 L1204,1064 L1124,1064 L1129.7,989 L1132.6,960.6 Z" fill="#fff" filter="url(#nzf)" opacity="0.4"/>
<path d="M1132.6,901 L1146.7,855.6 L1160,840 L1205,840 L1212,912 L1210,1000 L1204,1064 L1124,1064 L1129.7,989 L1132.6,960.6 Z" fill="#000" filter="url(#nzd2)" opacity="0.35"/>
<path d="M1212,912 L1398.8,912 L1398.8,1064 L1204,1064 L1210,1000 Z" fill="#474747"/>
<path d="M1312,915 C1330,910 1340,940 1348,960 C1356,985 1357,1030 1356,1064 L1326,1064 C1312,1030 1300,980 1302,950 C1303,930 1305,918 1312,915 Z" fill="#545454"/>
<rect x="1361" y="912" width="14" height="152" fill="#555" filter="url(#bl2)"/>
<rect x="954.4" y="762.5" width="443.7" height="301.5" filter="url(#nzv)" opacity="0.1"/><rect x="954.4" y="762.5" width="443.7" height="301.5" filter="url(#nzd)" opacity="0.1"/>
<path d="M980,955 C990,952 1000,960 1003,1000 L1003,1064 L981,1064 C979,1020 978,975 980,955 Z" fill="#4b4b4b"/>
<ellipse cx="991" cy="918.5" rx="13.6" ry="27.5" fill="#474747"/>
<ellipse cx="991" cy="918.5" rx="13.6" ry="27.5" fill="none" stroke="#8e8e8e" stroke-width="1.8" filter="url(#bl1)"/>
<path d="M984,894 C976,905 975,930 985,944" stroke="#b4b4b4" stroke-width="2.4" fill="none" filter="url(#bl1)"/>
<path d="M992,947 C982,952 977,975 978,1000 C979,1030 980,1050 981,1064" stroke="#8e8e8e" stroke-width="2" fill="none" filter="url(#bl1)"/>
<path d="M996,947 C1002,960 1004,985 1003,1010" stroke="#7a7a7a" stroke-width="1.8" fill="none" filter="url(#bl1)"/>
<path d="M1011,875 L1011,1064" stroke="#3a3a3a" stroke-width="2.5" fill="none" filter="url(#bl1)"/>
<path d="M1014,875 L1014,1064" stroke="#6a6a6a" stroke-width="1.5" fill="none" filter="url(#bl1)"/>
<ellipse cx="1021" cy="875" rx="5" ry="4" fill="#353535" filter="url(#bl1)"/>
<path d="M1050.5,762.0 C1050.4,765.8 1050.6,777.0 1050.0,785.0 C1049.4,793.0 1047.7,801.7 1047.0,810.0 C1046.3,818.3 1046.7,827.5 1046.0,835.0 C1045.3,842.5 1043.3,849.2 1043.0,855.0 C1042.7,860.8 1044.5,865.8 1044.0,870.0 C1043.5,874.2 1041.0,876.3 1040.0,880.0 C1039.0,883.7 1038.5,885.3 1038.0,892.0 C1037.5,898.7 1037.5,908.7 1037.0,920.0 C1036.5,931.3 1035.5,946.7 1035.0,960.0 C1034.5,973.3 1034.2,982.7 1034.0,1000.0 C1033.8,1017.3 1033.6,1053.3 1033.5,1064.0" fill="none" stroke="#c8c8c8" stroke-width="2.6" stroke-opacity="1.0" stroke-linecap="round" stroke-linejoin="round" />
<path d="M1079.0,775.0 C1079.2,779.2 1080.0,790.8 1080.0,800.0 C1080.0,809.2 1079.0,820.0 1079.0,830.0 C1079.0,840.0 1079.8,855.0 1080.0,860.0" fill="none" stroke="#6a6a6a" stroke-width="2.5" stroke-opacity="0.6" stroke-linecap="round" stroke-linejoin="round" stroke-dasharray="2 4"/>
<path d="M1136.0,762.0 C1134.5,766.7 1129.5,780.5 1127.0,790.0 C1124.5,799.5 1122.4,809.2 1121.2,818.7 C1120.0,828.2 1119.7,838.8 1119.8,847.0 C1119.9,855.2 1120.8,861.8 1122.0,868.0 C1123.2,874.2 1125.1,878.5 1126.9,884.0 C1128.7,889.5 1131.6,898.2 1132.6,901.0" fill="none" stroke="#d0d0d0" stroke-width="2.6" stroke-opacity="1.0" stroke-linecap="round" stroke-linejoin="round" />
<path d="M1132.6,901.0 C1134.9,893.4 1143.4,867.4 1146.7,855.6 C1150.0,843.8 1148.1,838.0 1152.4,830.0 C1156.7,822.0 1166.2,812.6 1172.3,807.4 C1178.4,802.2 1185.5,802.7 1189.3,798.9 C1193.1,795.1 1195.0,790.9 1195.0,784.7 C1195.0,778.6 1190.2,765.8 1189.3,762.0" fill="none" stroke="#b8b8b8" stroke-width="2" stroke-opacity="1.0" stroke-linecap="round" stroke-linejoin="round" />
<ellipse cx="1151" cy="833" rx="6" ry="7" fill="#2a2a2a" filter="url(#bl1)"/>
<path d="M1132.6,901.0 C1132.6,910.9 1133.1,945.9 1132.6,960.6 C1132.1,975.3 1131.1,971.8 1129.7,989.0 C1128.3,1006.2 1125.0,1051.5 1124.0,1064.0" fill="none" stroke="#a8a8a8" stroke-width="2.2" stroke-opacity="1.0" stroke-linecap="round" stroke-linejoin="round" />
<path d="M1137.0,905.0 C1136.8,914.2 1136.7,944.2 1136.0,960.0 C1135.3,975.8 1134.3,982.7 1133.0,1000.0 C1131.7,1017.3 1128.8,1053.3 1128.0,1064.0" fill="none" stroke="#7c7c7c" stroke-width="4" stroke-opacity="0.7" stroke-linecap="round" stroke-linejoin="round" filter="url(#bl1)"/>
<path d="M1312,915 C1330,910 1340,940 1348,960 C1356,985 1357,1030 1356,1064" stroke="#7e7e7e" stroke-width="2" fill="none"/>
<path d="M1312,915 C1305,918 1303,930 1302,950 C1300,980 1312,1030 1326,1064" stroke="#a0a0a0" stroke-width="2.2" fill="none" filter="url(#bl1)"/>
<path d="M1368.0,915.0 C1367.7,925.8 1365.8,955.2 1366.0,980.0 C1366.2,1004.8 1368.5,1050.0 1369.0,1064.0" fill="none" stroke="#9a9a9a" stroke-width="1.6" stroke-opacity="1.0" stroke-linecap="round" stroke-linejoin="round" />
<path d="M1380.0,915.0 C1379.7,927.5 1379.3,965.2 1378.0,990.0 C1376.7,1014.8 1373.0,1051.7 1372.0,1064.0" fill="none" stroke="#7a7a7a" stroke-width="1.4" stroke-opacity="1.0" stroke-linecap="round" stroke-linejoin="round" />
<rect x="1205" y="762" width="194" height="148" fill="#4c4c4c"/>
<rect x="1205" y="762" width="194" height="148" fill="#000" filter="url(#nzd)" opacity="0.3"/>
<rect x="1205" y="762" width="194" height="148" fill="#fff" filter="url(#ridge)" opacity="0.45"/>
<rect x="1205" y="762" width="194" height="148" fill="#fff" filter="url(#ridge2)" opacity="0.2"/>
</g>
<path d="M1204.9,762.5 L1204.9,910.3 L1398.1,910.3" fill="none" stroke="#fff" stroke-width="3"/>
<rect x="1169.5" y="928.3" width="34.2" height="31.2" fill="none" stroke="#fff" stroke-width="2.6"/>
<g clip-path="url(#cpf)">
<rect x="1406.1" y="762.5" width="443.9" height="301.5" fill="#5b5b5b"/>
<rect x="1406.1" y="762.5" width="443.9" height="30" fill="#555" filter="url(#bl4)"/>
<rect x="1406.1" y="762.5" width="443.9" height="301.5" filter="url(#nzv)" opacity="0.14"/><rect x="1406.1" y="762.5" width="443.9" height="301.5" filter="url(#nzd)" opacity="0.14"/>
<ellipse cx="1572" cy="806" rx="22" ry="24" fill="#3c3c3c" filter="url(#bl8)"/>
<ellipse cx="1571" cy="806" rx="13" ry="14" fill="#262626" filter="url(#bl2)"/>
<path d="M1562,800 L1570,797 L1579.5,795.5 L1580,805 L1576,814 L1572,817.5 L1567,812 L1563,806 Z" fill="#0a0a0a" filter="url(#bl1)"/>
<path d="M1562,766 C1566,772 1572,776 1576,770" stroke="#8a8a8a" stroke-width="3" fill="none" filter="url(#bl1)"/>
<ellipse cx="1445" cy="870" rx="22" ry="38" fill="#4c4c4c" filter="url(#bl4)"/>
<path d="M1433,898 L1440,888 L1450,879 L1462,884 L1470,888 L1462,897 L1446,903 Z" fill="#8a8a8a" filter="url(#bl1)"/>
<ellipse cx="1446" cy="899.5" rx="8" ry="2.6" fill="#f0f0f0" filter="url(#bl1)"/>
<path d="M1438,892 L1444,886 L1448,893 M1452,885 L1458,892" stroke="#5a5a5a" stroke-width="2" fill="none"/>
<path d="M1459.5,835 C1463,840 1465.5,850 1464.5,859 L1461,861 C1459,851 1458.5,842 1459.5,835 Z" fill="#0c0c0c" filter="url(#bl1)"/>
<path d="M1451,869 L1458,866 L1461,862 L1467,863 L1469.5,869 L1475.5,871 L1476,877 L1469,879.5 L1462,880 L1458.5,886 L1455.5,884 L1456,878.5 L1451.5,876 Z" fill="#080808" filter="url(#bl1)"/>
<path d="M1476,871 C1479,874 1478,878 1474,880" stroke="#9a9a9a" stroke-width="1.5" fill="none"/>
<path d="M1436,942 L1442,938 L1446,944 L1445,956 L1440,958 L1437,950 Z" fill="#1a1a1a" filter="url(#bl1)"/>
<ellipse cx="1448" cy="935" rx="6" ry="8" fill="none" stroke="#8a8a8a" stroke-width="1.5" filter="url(#bl1)"/>
<path d="M1441.0,958.0 C1441.3,960.0 1443.0,965.5 1443.0,970.0 C1443.0,974.5 1441.3,982.5 1441.0,985.0" fill="none" stroke="#bbbbbb" stroke-width="3.5" stroke-opacity="0.9" stroke-linecap="round" stroke-linejoin="round" filter="url(#bl1)"/>
<ellipse cx="1602" cy="1042" rx="20" ry="26" fill="#4a4a4a" filter="url(#bl4)"/>
<path d="M1618.5,1021 L1628,1023 L1631,1040 L1629,1064 L1618.5,1064 Z" fill="#9a9a9a" filter="url(#bl1)"/>
<path d="M1619,1024 L1628,1026 L1630,1040 L1628,1064 L1619,1064 Z" fill="#000" filter="url(#nzd2)" opacity="0.5"/>
<path d="M1599,1022 C1606,1019 1614,1019 1621,1021" stroke="#c4c4c4" stroke-width="3.2" fill="none" filter="url(#bl1)"/>
<path d="M1588.4,1033 L1596,1027 L1601,1025 L1606,1025.5 L1610,1024.5 L1618.5,1024.5 L1618.5,1057.5 L1606,1058 L1601,1052 L1600,1045 L1593,1040 L1590,1036 Z" fill="#080808" filter="url(#bl1)"/>
<path d="M1620.0,992.0 C1620.2,994.2 1621.0,1000.3 1621.0,1005.0 C1621.0,1009.7 1620.2,1017.5 1620.0,1020.0" fill="none" stroke="#a8a8a8" stroke-width="3" stroke-opacity="0.8" stroke-linecap="round" stroke-linejoin="round" filter="url(#bl1)"/>
<path d="M1614,762 L1628,762 L1624,776 L1618,780 Z" fill="#1c1c1c" filter="url(#bl1)"/>
<path d="M1619.0,778.0 C1619.2,780.8 1619.9,789.3 1620.0,795.0 C1620.1,800.7 1619.6,809.2 1619.5,812.0" fill="none" stroke="#141414" stroke-width="3" stroke-opacity="0.95" stroke-linecap="round" stroke-linejoin="round" />
<path d="M1615.5,782.0 C1615.4,785.8 1615.0,797.0 1615.0,805.0 C1615.0,813.0 1615.4,825.8 1615.5,830.0" fill="none" stroke="#a0a0a0" stroke-width="2.5" stroke-opacity="0.8" stroke-linecap="round" stroke-linejoin="round" filter="url(#bl1)"/>
<path d="M1527.0,945.0 C1528.3,944.2 1532.2,939.2 1535.0,940.0 C1537.8,940.8 1541.2,948.7 1544.0,950.0 C1546.8,951.3 1549.3,947.2 1552.0,948.0 C1554.7,948.8 1558.7,953.8 1560.0,955.0" fill="none" stroke="#c0c0c0" stroke-width="1.6" stroke-opacity="1.0" stroke-linecap="round" stroke-linejoin="round" />
<path d="M1530.0,952.0 C1531.7,953.0 1537.0,956.3 1540.0,958.0 C1543.0,959.7 1546.7,961.3 1548.0,962.0" fill="none" stroke="#aaaaaa" stroke-width="1.4" stroke-opacity="1.0" stroke-linecap="round" stroke-linejoin="round" />
<path d="M1794,766 C1805,764 1815,765 1826,764" stroke="#bdbdbd" stroke-width="2" fill="none" filter="url(#bl1)"/>
<ellipse cx="1802" cy="774" rx="11" ry="2.2" fill="#222" filter="url(#bl1)"/>
<ellipse cx="1799" cy="791" rx="9" ry="7" fill="#2a2a2a" filter="url(#bl2)"/>
<path d="M1771,783 C1785,777 1805,778 1817,781 C1810,786 1790,787 1771,785 Z" fill="#9a9a9a" stroke="#dcdcdc" stroke-width="2"/>
<path d="M1791,791 L1806,796 L1799,804 Z" stroke="#bbbbbb" stroke-width="1.8" fill="#555"/>
<path d="M1795.4,806.5 C1796.0,808.4 1797.7,814.1 1799.0,818.0 C1800.3,821.9 1801.6,826.5 1803.0,830.0 C1804.4,833.5 1806.7,837.5 1807.4,839.0" fill="none" stroke="#d0d0d0" stroke-width="2.2" stroke-opacity="1.0" stroke-linecap="round" stroke-linejoin="round" />
<path d="M1806,841 C1815,840 1826,843 1830,848 C1834,853 1834,863 1831,868 C1822,870 1805,869 1797,866" stroke="#d2d2d2" stroke-width="2.4" fill="#5f5f5f"/>
<path d="M1766,857 C1760,853 1748,853 1745,860 C1743,867 1750,872 1758,872 C1763,872 1766,870 1767,868" stroke="#d4d4d4" stroke-width="2.4" fill="none"/>
<path d="M1790.0,978.0 C1790.8,981.7 1794.7,991.3 1795.0,1000.0 C1795.3,1008.7 1793.2,1019.3 1792.0,1030.0 C1790.8,1040.7 1788.7,1058.3 1788.0,1064.0" fill="none" stroke="#bdbdbd" stroke-width="1.6" stroke-opacity="1.0" stroke-linecap="round" stroke-linejoin="round" />
</g>
<polygon points="1591.4,856.1 1506.2,863.4 1505.7,857.5 1488.5,867.9 1507.2,875.2 1506.7,869.3 1592.0,861.9" fill="#fff"/>
<polygon points="1660.8,911.7 1628.4,996.4 1622.3,994.1 1624.7,1014.3 1640.0,1000.9 1633.9,998.5 1666.4,913.9" fill="#fff"/>
<text x="62" y="811" font-size="38" fill="#fff" text-anchor="start">(c)</text>
<text x="164" y="852" font-size="38" fill="#fff" text-anchor="start">Printing borders</text>
<text x="61" y="1007.9" font-size="38" fill="#ffff00" text-anchor="start">As-printed</text>
<text x="62" y="1052.9" font-size="38" fill="#ffff00" text-anchor="start">0.38 mm</text>
<text x="356" y="1027.7" font-size="38" fill="#fff" text-anchor="start">200 μm</text>
<rect x="388" y="1039.8" width="77.8" height="7" fill="#fff"/>
<text x="513" y="811" font-size="38" fill="#fff" text-anchor="start">(d)</text>
<text x="510.5" y="1007.9" font-size="38" fill="#ffff00" text-anchor="start">Polished</text>
<text x="510.5" y="1052.9" font-size="38" fill="#ffff00" text-anchor="start">0.38 mm</text>
<text x="810" y="1027.7" font-size="38" fill="#fff" text-anchor="start">200 μm</text>
<rect x="840.2" y="1039.8" width="78.3" height="7" fill="#fff"/>
<text x="965" y="811" font-size="38" fill="#fff" text-anchor="start">(e)</text>
<text x="964.5" y="1007.9" font-size="38" fill="#ffff00" text-anchor="start">As-printed</text>
<text x="964.5" y="1052.9" font-size="38" fill="#ffff00" text-anchor="start">0.44 mm</text>
<text x="1267" y="1027.7" font-size="38" fill="#fff" text-anchor="start">200 μm</text>
<rect x="1290.3" y="1039.8" width="78.6" height="7" fill="#fff"/>
<text x="1416" y="811" font-size="38" fill="#fff" text-anchor="start">(f)</text>
<text x="1609.6" y="879.4" font-size="38" fill="#fff" text-anchor="start">Pores</text>
<text x="1418.3" y="1007.9" font-size="38" fill="#ffff00" text-anchor="start">Polished</text>
<text x="1418.3" y="1052.9" font-size="38" fill="#ffff00" text-anchor="start">0.44 mm</text>
<text x="1714.5" y="1027.7" font-size="38" fill="#fff" text-anchor="start">200 μm</text>
<rect x="1741.6" y="1039.8" width="77.6" height="7" fill="#fff"/>
</svg>
</body></html>
